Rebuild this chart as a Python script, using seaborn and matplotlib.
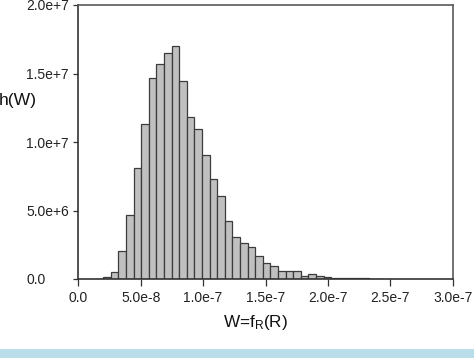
import numpy as np
import pandas as pd
import matplotlib
matplotlib.use("Agg")
import matplotlib.pyplot as plt
import seaborn as sns
from matplotlib.patches import Rectangle

# ---- data ----
bin_start = 1.39e-8
bin_width = 6.09e-9
heights_e6 = [0.03, 0.12, 0.49, 2.02, 4.65, 8.12, 11.29, 14.70, 15.69, 16.47, 17.03,
              14.43, 11.82, 10.95, 9.03, 7.28, 6.03, 4.27, 3.10, 2.65, 2.33,
              1.70, 1.20, 0.96, 0.57, 0.57, 0.57, 0.25, 0.34, 0.22, 0.15,
              0.09, 0.07, 0.05, 0.05, 0.04, 0.03, 0.02]
x_ticks = [0.0, 5.0e-8, 1.0e-7, 1.5e-7, 2.0e-7, 2.5e-7, 3.0e-7]
x_tick_labels = ["0.0", "5.0e-8", "1.0e-7", "1.5e-7", "2.0e-7", "2.5e-7", "3.0e-7"]
y_ticks = [0.0, 5.0e6, 1.0e7, 1.5e7, 2.0e7]
y_tick_labels = ["0.0", "5.0e+6", "1.0e+7", "1.5e+7", "2.0e+7"]

n = len(heights_e6)
edges = [float(bin_start + bin_width * i) for i in range(n + 1)]
centers = [(edges[i] + edges[i + 1]) / 2 for i in range(n)]
df = pd.DataFrame({"W": centers, "h": np.array(heights_e6) * 1e6})

sns.set_theme(style="white")
plt.rcParams["font.family"] = ["Liberation Sans", "DejaVu Sans"]
plt.rcParams["mathtext.default"] = "regular"

W, H = 474, 358
fig = plt.figure(figsize=(W / 100, H / 100), dpi=100)
ax_left, ax_right, ax_top, ax_bottom = 78.3, 452.7, 5, 279
ax = fig.add_axes([ax_left / W, 1 - ax_bottom / H, (ax_right - ax_left) / W,
                   (ax_bottom - ax_top) / H])

sns.histplot(data=df, x="W", weights="h", bins=edges, ax=ax,
             color="#c0c0c0", edgecolor="#3c3c3c", linewidth=0.9, alpha=1.0)

ax.set_xlim(0, 3.0e-7)
ax.set_ylim(0, 2.0e7)
ax.set_xticks(x_ticks)
ax.set_xticklabels(x_tick_labels)
ax.set_yticks(y_ticks)
ax.set_yticklabels(y_tick_labels)
ax.tick_params(axis="x", direction="out", length=5, width=0.9, color="#333333",
               labelsize=10, labelcolor="#222222", pad=3.5, bottom=True)
# y tick labels are left-aligned at x ~ 27.5 px
ytick_len = 3.5
ypad_px = ax_left - ytick_len - 27.5
ax.tick_params(axis="y", direction="out", length=ytick_len, width=0.9, color="#333333",
               labelsize=10, labelcolor="#222222", pad=ypad_px * 0.72, left=True)
for lbl in ax.get_yticklabels():
    lbl.set_horizontalalignment("left")

for side, sp in ax.spines.items():
    sp.set_visible(True)
    sp.set_linewidth(1.2)
    sp.set_color("#5a5a5a" if side in ("top", "right") else "#333333")

ax.set_xlabel("")
ax.set_ylabel("")
fig.text(255.5 / W, 1 - 326.7 / H, "W=f$_{R}$(R)", fontsize=12.3, color="#111111",
         ha="center", va="baseline")
fig.text(-1.5 / W, 1 - 101 / H, "h(W)", fontsize=12.6, color="#111111",
         ha="left", va="center")

# caption band at bottom
fig.patches.append(Rectangle((0, 0), 1, 9 / H, transform=fig.transFigure,
                             facecolor="#b9dde9", edgecolor="none", zorder=-1))

fig.savefig("out.png", dpi=100)
